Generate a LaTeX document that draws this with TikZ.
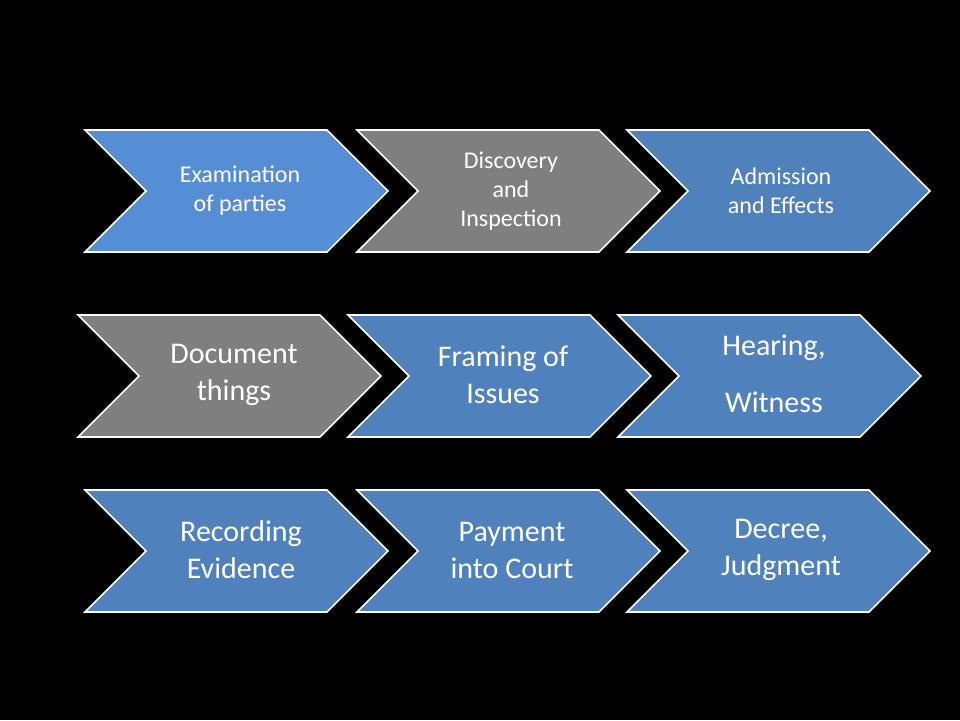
\documentclass[tikz,border=0pt]{standalone}
\usepackage{fontspec}
\setmainfont{Carlito}
\begin{document}
\begin{tikzpicture}[x=1pt,y=-1pt]
\definecolor{lb}{HTML}{558ED5}
\definecolor{mb}{HTML}{4F81BD}
\definecolor{gr}{HTML}{7F7F7F}
\tikzset{chev/.style={draw=white,line width=1.6pt,line join=miter},
  lbl/.style={text=white,align=center,font=\fontsize{24}{29}\selectfont},
  big/.style={text=white,align=center,font=\fontsize{30}{37}\selectfont}}
\fill[black] (0,0) rectangle (960,720);
\newcommand\chv[3]{% x y color
  \draw[chev,fill=#3] (#1,#2) -- ++(242,0) -- ++(61,61) -- ++(-61,61) -- ++(-242,0) -- ++(61,-61) -- cycle;}
\chv{85}{130}{lb}\chv{357}{130}{gr}\chv{627}{130}{mb}
\chv{78}{315}{gr}\chv{348}{315}{mb}\chv{618}{315}{mb}
\chv{85}{490}{mb}\chv{357}{490}{mb}\chv{627}{490}{mb}
\node[lbl] (a1) at (240,191) {Examination\\of parties};
\node[lbl] (a2) at (511,191) {Discovery\\and\\Inspection};
\node[lbl] (a3) at (781,191) {Admission\\and Effects};
\node[big] (b1) at (234,375) {Document\\things};
\node[big] (b2) at (503,375) {Framing of\\Issues};
\node[big,font=\fontsize{30}{57}\selectfont] (b3) at (774,374) {Hearing,\\Witness};
\node[big] (c1) at (241,550) {Recording\\Evidence};
\node[big] (c2) at (512,550) {Payment\\into Court};
\node[big] (c3) at (781,550) {Decree,\\Judgment};
\end{tikzpicture}
\end{document}
